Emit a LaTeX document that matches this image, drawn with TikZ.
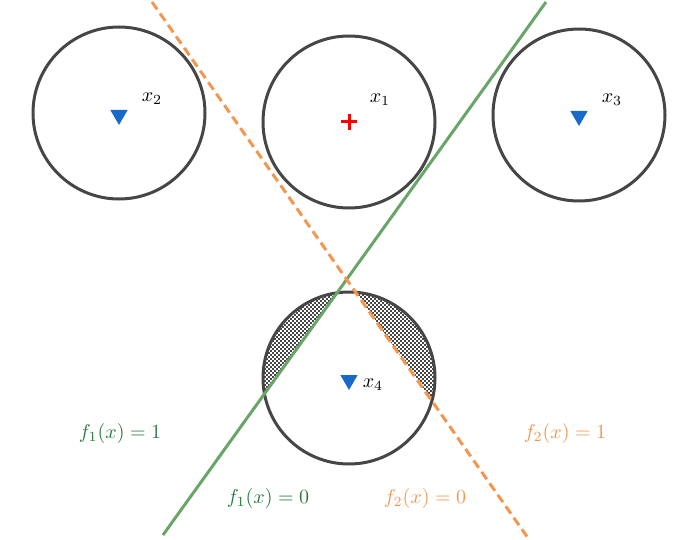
\documentclass[tikz,border=0pt]{standalone}
\usetikzlibrary{shapes.geometric}
\definecolor{cgray}{RGB}{70,70,70}
\definecolor{lgreen}{RGB}{105,165,105}
\definecolor{dgreen}{RGB}{40,120,60}
\definecolor{corange}{RGB}{242,150,80}
\definecolor{mblue}{RGB}{25,105,200}
\begin{document}
\begin{tikzpicture}[x=1pt,y=-1pt,
  circ/.style={draw=cgray,line width=3pt},
  tri/.style={fill=mblue,isosceles triangle,isosceles triangle apex angle=60,shape border rotate=-90,inner sep=0pt,minimum height=15pt},
  lab/.style={scale=2}]
\useasboundingbox (0,0) rectangle (690,540);
\begin{scope}
  \clip (349,378) circle (86);
  \foreach \i in {262,266,...,436} \foreach \j in {290,294,...,466} {
    \fill[cgray] (\i,\j) rectangle ++(2,2);
    \fill[cgray] (\i+2,\j+2) rectangle ++(2,2);
  }
  \fill[white] (346.6,279.4) -- (163,535) -- (528,538) -- cycle;
\end{scope}
\coordinate (c1) at (349,122);
\coordinate (c2) at (119,113);
\coordinate (c3) at (579,115);
\coordinate (c4) at (349,378);
\foreach \c in {c1,c2,c3,c4} \draw[circ] (\c) circle (86);
\coordinate (g1) at (163,535); \coordinate (g2) at (546,2);
\coordinate (o1) at (152,2); \coordinate (o2) at (528,538);
\draw[lgreen,line width=3pt] (g1) -- (g2);
\draw[corange,line width=3pt,dash pattern=on 9pt off 5pt] (o1) -- (o2);
\node[tri] (m2) at (119,115) {};
\node[tri] (m3) at (579,116) {};
\node[tri] (m4) at (349,380) {};
\draw[red,line width=3pt] (341,122) -- (357,122) (349,114) -- (349,130);
\node[lab] (l2) at (152,99) {$x_2$};
\node[lab] (l1) at (380,100) {$x_1$};
\node[lab] (l3) at (612,100) {$x_3$};
\node[lab] (l4) at (373,385) {$x_4$};
\node[lab,text=dgreen] (f11) at (120,433) {$f_1(x)=1$};
\node[lab,text=corange] (f21) at (565,433) {$f_2(x)=1$};
\node[lab,text=dgreen] (f10) at (268,498) {$f_1(x)=0$};
\node[lab,text=corange] (f20) at (425,498) {$f_2(x)=0$};
\end{tikzpicture}
\end{document}
